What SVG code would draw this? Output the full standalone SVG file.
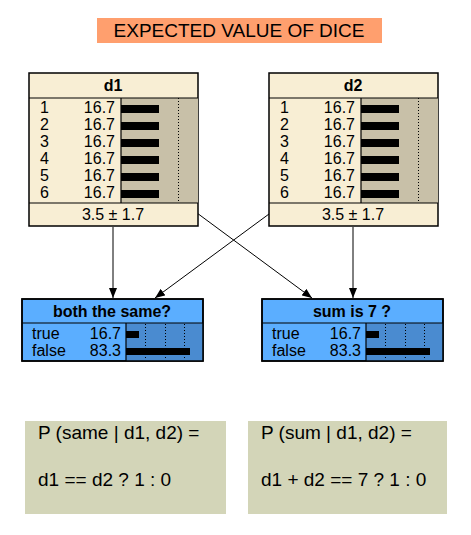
<svg xmlns="http://www.w3.org/2000/svg" width="471" height="535" viewBox="0 0 471 535">
<style>
text{font-family:"Liberation Sans",Arial,sans-serif;fill:#000}
.t{font-size:16px}
.h{font-size:16px;font-weight:bold}
.big{font-size:19px}
.cream{fill:#F8EED4;stroke:#000;stroke-width:1.5}
.gray{fill:#C8C0A8}
.blue{fill:#5BAEFF;stroke:#000;stroke-width:1.5}
.dblue{fill:#4A8BD0}
.bar{fill:#000}
.dot{stroke:#000;stroke-width:1;stroke-dasharray:1,2}
.ln{stroke:#000;stroke-width:1.2;fill:none}
.edge{stroke:#000;stroke-width:1;fill:none;marker-end:url(#ah)}
.note{fill:#D3D5B8}
</style>
<defs>
<marker id="ah" markerWidth="10" markerHeight="8" refX="10" refY="4" orient="auto" markerUnits="userSpaceOnUse">
<path d="M0,0 L10,4 L0,8 Z" fill="#000"/>
</marker>
</defs>

<g id="title">
<rect x="97" y="18" width="285" height="25" fill="#FF9F6E"/>
<text x="239" y="37" font-size="19" text-anchor="middle">EXPECTED VALUE OF DICE</text>
</g>

<g id="connectors">
<line class="edge" x1="113" y1="227" x2="113" y2="298"/>
<line class="edge" x1="353" y1="227" x2="353" y2="298"/>
<line class="edge" x1="197" y1="213" x2="312" y2="298"/>
<line class="edge" x1="269" y1="214" x2="155" y2="298"/>
</g>

<g id="d1">
<rect class="cream" x="29" y="73" width="169" height="153"/>
<rect class="gray" x="121" y="98" width="77" height="105"/>
<line class="ln" x1="29" y1="98" x2="198" y2="98"/>
<line class="ln" x1="29" y1="203" x2="198" y2="203"/>
<line class="ln" x1="121" y1="98" x2="121" y2="203"/>
<line class="dot" x1="178.5" y1="98" x2="178.5" y2="202"/>
<text class="h" x="113" y="91" text-anchor="middle">d1</text>
<g class="t">
<text x="40" y="113">1</text><text x="115" y="113" text-anchor="end">16.7</text>
<text x="40" y="130">2</text><text x="115" y="130" text-anchor="end">16.7</text>
<text x="40" y="147">3</text><text x="115" y="147" text-anchor="end">16.7</text>
<text x="40" y="164">4</text><text x="115" y="164" text-anchor="end">16.7</text>
<text x="40" y="181">5</text><text x="115" y="181" text-anchor="end">16.7</text>
<text x="40" y="198">6</text><text x="115" y="198" text-anchor="end">16.7</text>
</g>
<rect class="bar" x="121" y="105" width="38" height="8"/>
<rect class="bar" x="121" y="122" width="38" height="8"/>
<rect class="bar" x="121" y="139" width="38" height="8"/>
<rect class="bar" x="121" y="156" width="38" height="8"/>
<rect class="bar" x="121" y="173" width="38" height="8"/>
<rect class="bar" x="121" y="190" width="38" height="8"/>
<text class="t" x="113" y="220" text-anchor="middle">3.5 ± 1.7</text>
</g>

<g id="d2">
<rect class="cream" x="269" y="73" width="169" height="153"/>
<rect class="gray" x="361" y="98" width="77" height="105"/>
<line class="ln" x1="269" y1="98" x2="438" y2="98"/>
<line class="ln" x1="269" y1="203" x2="438" y2="203"/>
<line class="ln" x1="361" y1="98" x2="361" y2="203"/>
<line class="dot" x1="418.5" y1="98" x2="418.5" y2="202"/>
<text class="h" x="353" y="91" text-anchor="middle">d2</text>
<g class="t">
<text x="280" y="113">1</text><text x="355" y="113" text-anchor="end">16.7</text>
<text x="280" y="130">2</text><text x="355" y="130" text-anchor="end">16.7</text>
<text x="280" y="147">3</text><text x="355" y="147" text-anchor="end">16.7</text>
<text x="280" y="164">4</text><text x="355" y="164" text-anchor="end">16.7</text>
<text x="280" y="181">5</text><text x="355" y="181" text-anchor="end">16.7</text>
<text x="280" y="198">6</text><text x="355" y="198" text-anchor="end">16.7</text>
</g>
<rect class="bar" x="361" y="105" width="38" height="8"/>
<rect class="bar" x="361" y="122" width="38" height="8"/>
<rect class="bar" x="361" y="139" width="38" height="8"/>
<rect class="bar" x="361" y="156" width="38" height="8"/>
<rect class="bar" x="361" y="173" width="38" height="8"/>
<rect class="bar" x="361" y="190" width="38" height="8"/>
<text class="t" x="353" y="220" text-anchor="middle">3.5 ± 1.7</text>
</g>

<g id="same">
<rect class="blue" x="22" y="299" width="181" height="62"/>
<rect class="dblue" x="126" y="323" width="77" height="38"/>
<rect fill="none" stroke="#000" stroke-width="1.5" x="22" y="299" width="181" height="62"/>
<line class="ln" x1="22" y1="323" x2="203" y2="323"/>
<line class="ln" x1="126" y1="323" x2="126" y2="361"/>
<line class="dot" x1="145.5" y1="324" x2="145.5" y2="360"/>
<line class="dot" x1="165.5" y1="324" x2="165.5" y2="360"/>
<line class="dot" x1="184.5" y1="324" x2="184.5" y2="360"/>
<text class="h" x="112" y="317" text-anchor="middle">both the same?</text>
<text class="t" x="32" y="339">true</text><text class="t" x="121" y="339" text-anchor="end">16.7</text>
<text class="t" x="32" y="356">false</text><text class="t" x="121" y="356" text-anchor="end">83.3</text>
<rect class="bar" x="126" y="331" width="13" height="7"/>
<rect class="bar" x="126" y="348" width="64" height="7"/>
</g>

<g id="sum">
<rect class="blue" x="262" y="299" width="181" height="62"/>
<rect class="dblue" x="366" y="323" width="77" height="38"/>
<rect fill="none" stroke="#000" stroke-width="1.5" x="262" y="299" width="181" height="62"/>
<line class="ln" x1="262" y1="323" x2="443" y2="323"/>
<line class="ln" x1="366" y1="323" x2="366" y2="361"/>
<line class="dot" x1="385.5" y1="324" x2="385.5" y2="360"/>
<line class="dot" x1="405.5" y1="324" x2="405.5" y2="360"/>
<line class="dot" x1="424.5" y1="324" x2="424.5" y2="360"/>
<text class="h" x="352" y="317" text-anchor="middle">sum is 7 ?</text>
<text class="t" x="272" y="339">true</text><text class="t" x="361" y="339" text-anchor="end">16.7</text>
<text class="t" x="272" y="356">false</text><text class="t" x="361" y="356" text-anchor="end">83.3</text>
<rect class="bar" x="366" y="331" width="13" height="7"/>
<rect class="bar" x="366" y="348" width="64" height="7"/>
</g>

<g id="note-same">
<rect class="note" x="25" y="421" width="201" height="93"/>
<text class="big" x="38" y="439">P (same | d1, d2) =</text>
<text class="big" x="38" y="486">d1 == d2 ? 1 : 0</text>
</g>

<g id="note-sum">
<rect class="note" x="248" y="421" width="199" height="93"/>
<text class="big" x="261" y="439">P (sum | d1, d2) =</text>
<text class="big" x="261" y="486">d1 + d2 == 7 ? 1 : 0</text>
</g>
</svg>
